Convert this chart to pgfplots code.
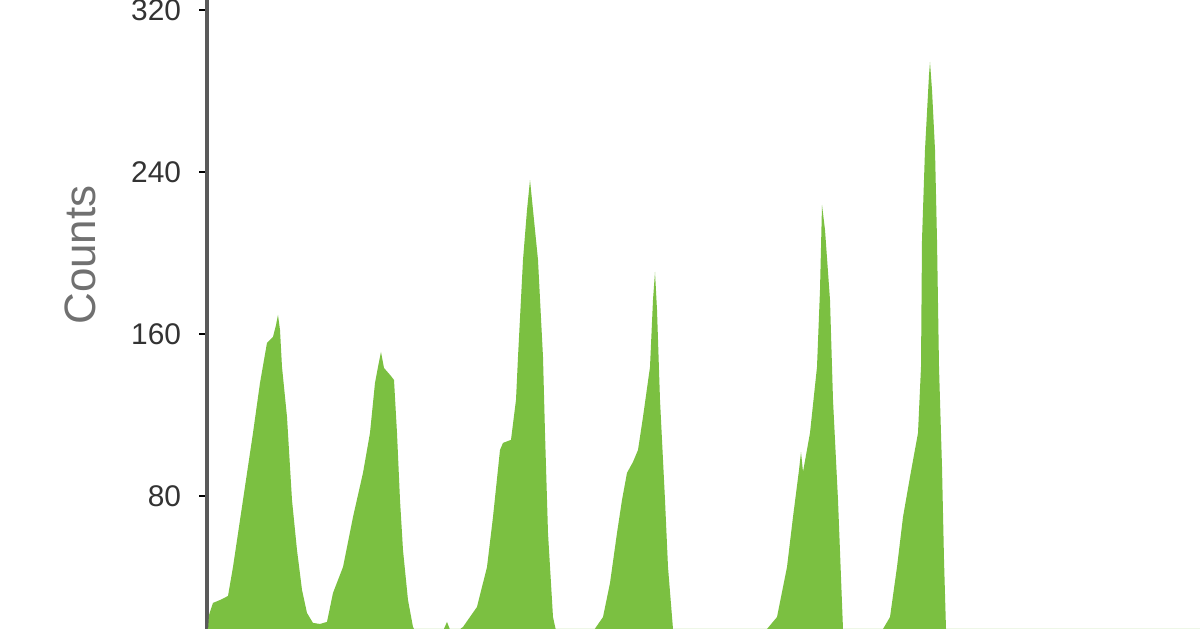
\documentclass[border=0pt]{standalone}
\usepackage{pgfplots}
\pgfplotsset{compat=1.18}
\usepackage{fontspec}
\setmainfont{Liberation Sans}

\definecolor{HistGreen}{RGB}{123,192,65}
\definecolor{AxisGrey}{HTML}{5A5A5A}
\definecolor{LabelGrey}{HTML}{707070}

\begin{document}
\begin{tikzpicture}
    \begin{axis}[
        at={(0,0)}, anchor=south west,
        scale only axis,
        width=9.93cm, height=6.29cm,
        xmin=0, xmax=993,
        ymin=14.3, ymax=324.9,
        axis x line=none,
        axis y line*=left,
        y axis line style={draw=AxisGrey, line width=1.2pt},
        ytick={80,160,240,320},
        tick align=outside,
        major tick length=0.75mm,
        ytick style={draw=black, line width=0.8pt},
        yticklabel style={font=\fontsize{8.5}{10}\selectfont, text=black!80, xshift=-0.6mm},
        /pgf/number format/assume math mode=true,
        ylabel={Counts},
        every axis y label/.style={at={(axis description cs:-0.1279,0.5946)},
            rotate=90, anchor=center, font=\fontsize{12.5}{14}\selectfont, text=LabelGrey},
    ]
    % channel vs counts
    \addplot[fill=HistGreen, draw=none] coordinates {
        (0,5) (2,21.2) (6,27.2) (13,28.6) (21,30.6) (26,44.9) (36,78.0)
        (46,111.1) (53,135.8) (60,155.6) (66,158.5) (69,164.4) (71,169.4)
        (73,162.0) (75,143.7) (80,119.0) (85,78.0) (90,53.3) (95,33.6)
        (100,22.2) (106,17.3) (113,16.8) (120,17.8)
        (126,32.1) (136,44.9) (146,69.6) (156,91.4) (163,111.1) (168,135.8)
        (171,143.7) (174,151.1) (177,143.2) (183,139.8) (187,137.3)
        (190,111.1) (193,78.0) (196,53.3) (201,28.6) (206,15.3)
        (213,8.9) (233,9.9) (240,17.8) (245,11.4) (256,15.3)
        (270,25.2) (280,44.9) (286,69.6) (293,102.7) (296,106.2) (304,107.7)
        (309,127.4) (311,148.6) (316,196.5) (320,221.2) (323,236.0)
        (326,221.2) (331,196.5) (336,148.6) (338,111.1) (341,61.7)
        (346,20.2) (351,8.9) (373,9.9) (383,10.9)
        (396,20.2) (403,37.0) (410,61.7) (415,78.0) (420,91.4) (426,96.8)
        (431,102.7) (436,119.0) (443,143.7) (446,176.8) (448,190.6)
        (450,171.9) (453,127.4) (458,78.0) (461,44.9) (466,14.3)
        (471,8.9) (533,9.9) (553,12.8) (560,14.3)
        (570,20.2) (580,44.9) (586,69.6) (592,92.8) (594,101.7) (596,91.9)
        (603,111.1) (610,143.7) (613,181.7) (615,223.7) (618,211.4)
        (623,176.8) (626,127.4) (631,78.0) (636,14.3)
        (641,8.9) (668,8.9) (676,14.3)
        (683,20.2) (690,44.9) (696,69.6) (703,89.4) (711,111.1) (714,143.7)
        (715,206.4) (718,250.9) (722,287.9) (723,294.3) (725,280.5)
        (728,250.9) (730,206.4) (732,143.7) (735,94.3) (737,48.4)
        (739,14.3) (743,8.9) (993,8.9)
    } \closedcycle;
    \end{axis}
    \pgfresetboundingbox
    \path[use as bounding box] (-2.07cm,0) rectangle (9.93cm,6.29cm);
\end{tikzpicture}
\end{document}
